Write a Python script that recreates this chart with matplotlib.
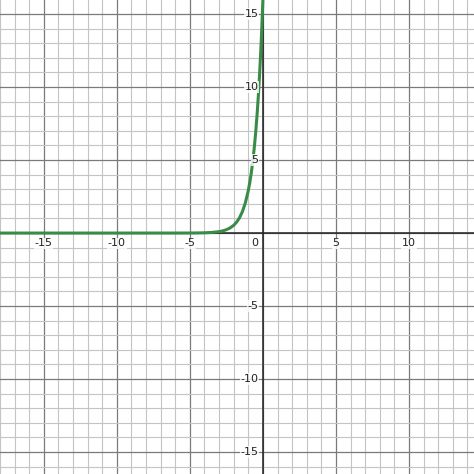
import matplotlib
matplotlib.use("Agg")
import matplotlib.pyplot as plt
import numpy as np

curve_x = [-18, -10, -6, -5, -4.5, -4, -3.5, -3, -2.75, -2.5, -2.25, -2, -1.8, -1.6, -1.4, -1.2, -1.0,
           -0.9, -0.8, -0.7, -0.6, -0.5, -0.4, -0.3, -0.2, -0.1, 0.0, 0.05]
curve_y = [0.0, 0.0, 0.0006, 0.003, 0.0077, 0.018, 0.042, 0.097, 0.15, 0.23, 0.35, 0.53, 0.75,
           1.05, 1.48, 2.08, 2.92, 3.46, 4.10, 4.87, 5.77, 6.84, 8.11, 9.61, 11.4, 13.5, 16.0, 17.4]
x_ticks = [-15, -10, -5, 5, 10]
y_ticks = [-15, -10, -5, 5, 10, 15]

fig = plt.figure(figsize=(4.74, 4.74), dpi=100)
ax = fig.add_axes([0, 0, 1, 1])
xmin, xmax, ymin, ymax = -18.0, 14.45, -16.5, 15.96
ax.set_xlim(xmin, xmax); ax.set_ylim(ymin, ymax)
for v in range(-18, 15):
    c, lw = ('#7a7a7a', 0.9) if v % 5 == 0 else ('#c4c4c4', 0.8)
    ax.axvline(v, color=c, lw=lw, zorder=0)
for v in range(-16, 16):
    c, lw = ('#7a7a7a', 0.9) if v % 5 == 0 else ('#c4c4c4', 0.8)
    ax.axhline(v, color=c, lw=lw, zorder=0)
ax.axhline(0, color='#222222', lw=1.1, zorder=1)
ax.axvline(0, color='#222222', lw=1.1, zorder=1)
ax.plot(curve_x, curve_y, color='#388c46', lw=2.2, zorder=3)
for t in x_ticks:
    ax.text(t, -0.35, str(t), ha='center', va='top', fontsize=8,
            color='#222222', bbox=dict(fc='white', ec='none', pad=0.5, alpha=0.8))
for t in y_ticks:
    ax.text(-0.3, t, str(t), ha='right', va='center', fontsize=8,
            color='#222222', bbox=dict(fc='white', ec='none', pad=0.5, alpha=0.8))
ax.text(-0.3, -0.35, '0', ha='right', va='top', fontsize=8, color='#222222')
ax.axis('off')
fig.savefig('out.png', dpi=100)
